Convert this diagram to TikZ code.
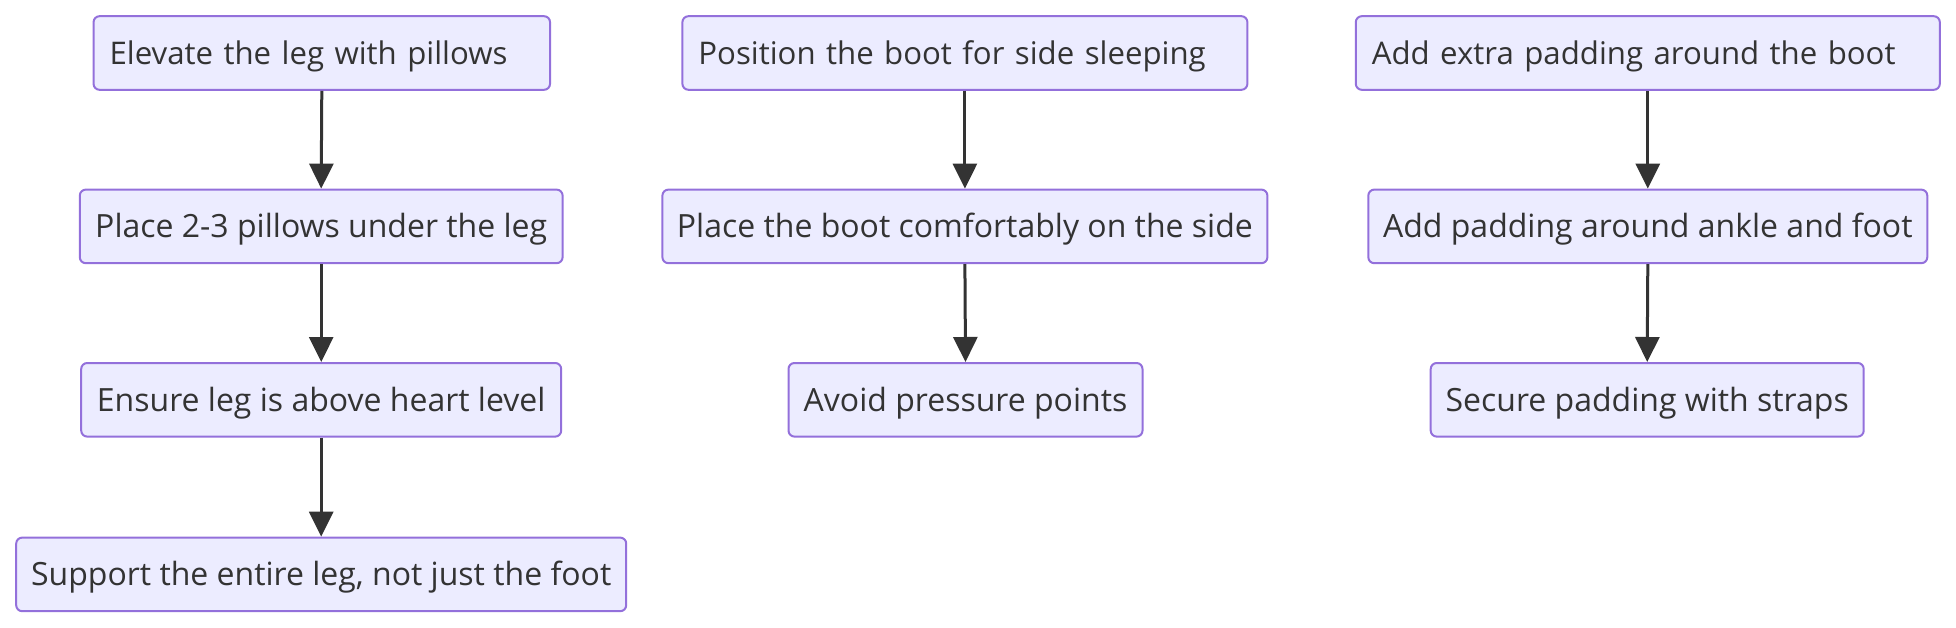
\documentclass[tikz,border=0pt]{standalone}
\usepackage{fontspec}
\setmainfont{Open Sans}
\usetikzlibrary{arrows.meta}
\definecolor{boxfill}{HTML}{ECECFF}
\definecolor{boxline}{HTML}{9370DB}
\definecolor{ink}{HTML}{333333}
\tikzset{
  stepbox/.style={draw=boxline, fill=boxfill, line width=2pt, rounded corners=6pt,
    text=ink, font=\fontsize{32}{38}\selectfont, minimum height=73.6pt,
    inner xsep=0pt, inner ysep=0pt, text height=22.8pt, text depth=0pt},
  topbox/.style={stepbox, align=left, inner xsep=16pt, font=\fontsize{31.2}{37}\selectfont, text height=22.3pt},
  flow/.style={draw=ink, line width=3pt, -{Triangle[length=25pt,width=24pt]}}
}
\begin{document}
\begin{tikzpicture}[x=1pt,y=-1pt]
\useasboundingbox (0,0) rectangle (1956,628);
% column 1
\node[topbox, text width=424.5pt] (a1) at (321.8,53) {Elevate the leg with pillows};
\node[stepbox, minimum width=482.8pt] (a2) at (321.2,226.4) {Place 2-3 pillows under the leg};
\node[stepbox, minimum width=480pt] (a3) at (321.2,399.8) {Ensure leg is above heart level};
\node[stepbox, minimum width=610pt] (a4) at (321.2,574.4) {Support the entire leg, not just the foot};
% column 2
\node[topbox, text width=533pt] (b1) at (964.9,53) {Position the boot for side sleeping};
\node[stepbox, minimum width=605pt] (b2) at (964.9,226.4) {Place the boot comfortably on the side};
\node[stepbox, minimum width=354pt] (b3) at (965.5,399.8) {Avoid pressure points};
% column 3
\node[topbox, text width=552pt] (c1) at (1647.8,53) {Add extra padding around the boot};
\node[stepbox, minimum width=559pt] (c2) at (1647.8,226.4) {Add padding around ankle and foot};
\node[stepbox, minimum width=433pt] (c3) at (1647.2,399.8) {Secure padding with straps};
% connectors
\draw[flow] (a1.south) -- (a2.north);
\draw[flow] (a2.south) -- (a3.north);
\draw[flow] (a3.south) -- (a4.north);
\draw[flow] (b1.south) -- (b2.north);
\draw[flow] (b2.south) -- (b3.north);
\draw[flow] (c1.south) -- (c2.north);
\draw[flow] (c2.south) -- (c3.north);
\end{tikzpicture}
\end{document}
